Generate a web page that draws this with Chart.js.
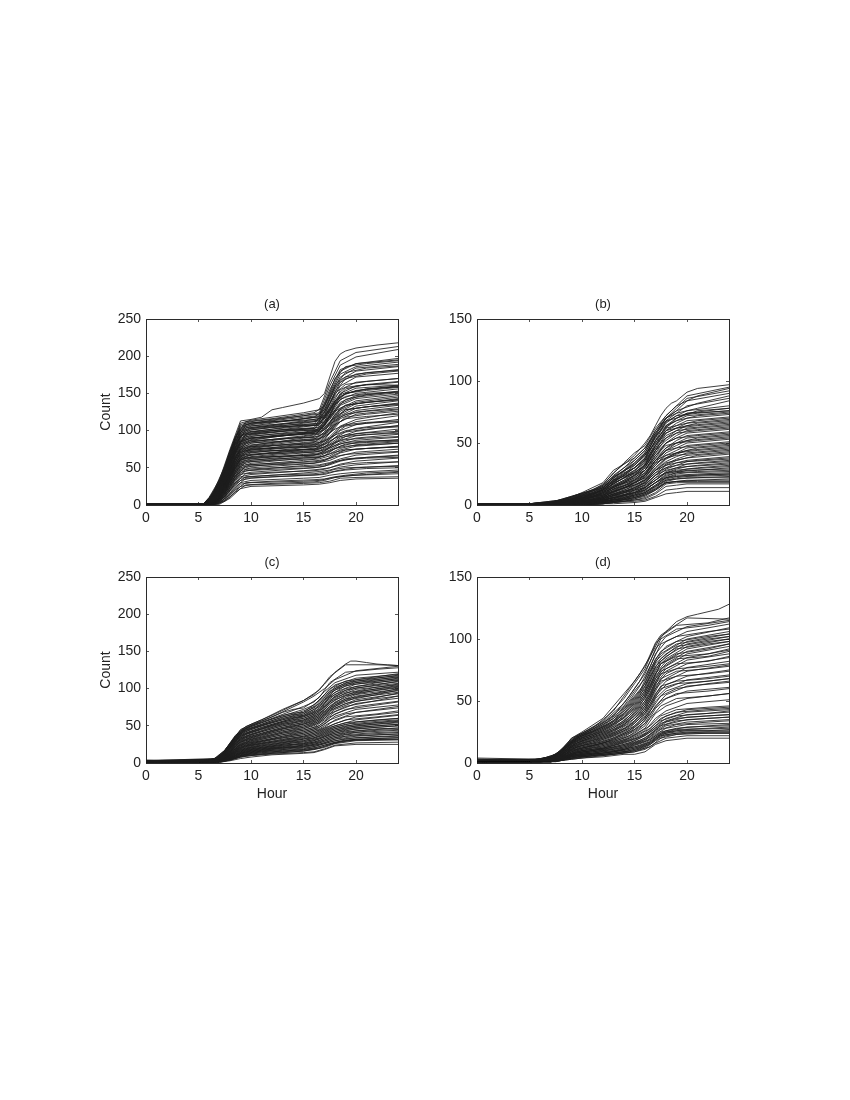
<!DOCTYPE html>
<html><head><meta charset="utf-8">
<script src="https://cdn.jsdelivr.net/npm/chart.js@4"></script>
<style>
html,body{margin:0;padding:0;background:#fff;width:850px;height:1100px;overflow:hidden}
.p{position:absolute;width:310px;height:250px}
</style></head><body>
<div class="p" style="left:96px;top:295px"><canvas id="a"></canvas></div>
<div class="p" style="left:427px;top:295px"><canvas id="b"></canvas></div>
<div class="p" style="left:96px;top:553px"><canvas id="c"></canvas></div>
<div class="p" style="left:427px;top:553px"><canvas id="d"></canvas></div>
<script>
const hoursATop=[0,5.5,6,7,8,9,10,11,12,13,15,16.5,17,17.5,18,18.5,19,20,22,24];
const countsATop=[[2,2,10,34,75,113,115,118,128,131,137,143,150,172,193,203,207,211,215,218]];
const hoursA=[0,5.5,6,7,8,9,10,15,16.5,17.5,18.5,20,24];
const countsA=[
[2,2,9,30,72,110,114,124,128,165,194,205,213],
[1,2,8,28,70,108,112,120,124,160,188,199,209],[2,2,9,31,73,104,110,120,122,150,180,190,197],
[1,1,7,26,68,106,110,118,120,155,182,190,195],[2,2,8,27,66,100,106,116,119,148,176,186,192],
[1,1,7,24,64,102,108,116,118,146,172,184,189],[1,1,6,25,62,98,104,113,116,142,168,180,186],
[2,2,8,23,60,96,103,112,114,138,165,176,182],[1,1,5,22,58,94,101,110,113,136,160,172,177],
[1,1,6,24,60,92,98,108,110,130,155,165,170],[1,1,4,20,56,90,96,105,108,128,150,160,165],
[2,2,7,22,58,93,99,106,107,125,148,157,161],[1,1,5,19,54,88,94,102,104,122,146,154,159],
[1,1,5,21,57,86,92,100,102,120,142,150,156],[2,2,6,18,52,84,90,98,101,118,138,147,153],
[1,1,4,20,55,82,88,96,99,116,136,145,151],[1,1,5,17,50,80,87,97,100,115,134,143,149],
[1,1,3,19,53,85,90,95,97,112,130,140,147],[2,2,6,16,48,78,85,93,96,110,128,138,145],
[1,1,4,18,50,76,83,92,95,108,126,136,143],[1,1,3,15,46,75,80,90,92,104,122,133,140],
[1,1,5,17,48,74,79,88,90,102,120,130,137],[2,2,4,14,44,72,78,86,88,100,118,127,134],
[1,1,3,16,45,70,76,84,86,98,116,125,131],[1,1,2,13,42,68,74,82,84,96,112,122,128],
[1,1,4,15,43,71,75,80,82,92,106,115,124],[1,1,3,12,40,66,72,79,81,90,104,112,120],
[1,1,2,14,41,65,70,77,79,88,100,108,115],[1,1,3,11,38,63,68,75,77,85,96,103,111],
[1,1,2,13,39,62,67,74,75,82,92,99,107],[1,1,1,10,36,60,65,72,73,80,90,96,102],
[1,1,2,12,37,61,64,70,72,78,87,93,98],[1,1,1,9,34,58,62,68,70,76,84,90,95],
[1,1,1,11,33,56,60,67,68,74,82,87,91],[1,1,2,8,31,54,58,65,66,72,79,84,88],
[1,1,1,10,32,52,56,63,64,69,76,81,85],[1,1,1,7,28,50,54,60,62,66,74,79,83],
[1,1,1,9,29,48,52,58,60,63,70,75,79],[1,1,1,6,26,46,50,55,57,60,66,71,75],
[1,1,1,8,25,44,47,53,54,57,62,67,71],[1,1,0,5,23,41,44,49,51,54,59,63,67],
[1,1,0,7,22,38,41,46,48,50,55,59,63],[1,1,0,4,20,36,38,43,45,47,51,54,58],
[1,1,0,5,18,33,36,40,41,44,47,50,53],[1,1,0,3,15,30,33,36,37,40,42,44,47],
[1,1,0,3,14,28,30,32,33,36,38,40,42],[1,1,0,2,11,25,27,29,30,32,36,37,38],
[1,1,0,1,9,22,25,27,28,30,33,35,36]];
const hoursA2=[5.5,6.3,7.5,8.5,9.5,12,14,16,17,18,19,21,24];
const countsA2=[
[2,14,52,92,112,116,120,124,133,170,186,190,194],[1,13,50,90,110,112,114,118,128,160,178,184,187],
[2,12,48,88,106,108,110,112,120,152,170,176,180],[1,12,46,86,108,112,113,115,118,140,156,162,166],
[1,11,45,85,104,106,108,109,125,158,172,178,181],[1,11,44,82,100,104,106,108,116,138,150,156,160],
[1,10,42,80,102,105,106,107,112,126,134,138,141],[1,10,42,84,98,100,102,104,122,150,162,166,170],
[1,9,40,78,96,100,102,103,108,128,142,148,152],[1,9,38,76,94,98,101,102,118,146,158,162,161],
[1,8,38,74,92,95,97,98,104,118,128,132,136],[1,8,36,72,95,98,100,100,106,134,150,156,159],
[1,8,35,72,90,92,94,96,101,114,122,126,129],[1,7,34,70,88,93,95,97,112,140,150,154,158],
[1,7,33,68,86,88,90,91,96,108,116,119,122],[1,7,32,66,84,88,90,92,108,136,146,150,152],
[1,6,31,65,83,85,86,87,92,102,108,111,113],[1,6,30,64,80,84,87,88,98,122,134,138,142],
[1,6,28,62,78,80,81,82,86,94,100,104,106],[1,5,28,60,76,80,82,84,94,116,128,132,135],
[1,5,26,58,75,76,77,78,82,90,94,97,99],[1,5,25,56,73,76,78,79,88,106,118,122,126],
[1,5,24,55,72,73,74,75,78,84,88,90,92],[1,4,23,53,70,73,74,75,82,96,106,110,112],
[1,4,22,52,68,69,70,71,74,80,84,86,87],[1,4,21,50,66,70,72,73,78,90,98,102,105],
[1,3,20,48,64,65,66,67,70,76,79,81,83],[1,3,19,46,62,65,66,67,72,84,92,95,96],
[1,3,18,44,60,62,63,64,66,71,74,76,78],[1,3,17,42,58,60,61,62,66,76,82,84,86],
[1,2,16,40,54,56,57,58,60,65,68,70,72],[1,2,15,38,52,54,55,56,60,68,74,76,78],
[1,2,13,36,48,50,51,52,54,58,61,63,64],[1,2,12,34,46,48,49,50,52,58,62,64,66],
[1,1,11,30,42,44,45,46,48,52,55,57,58],[1,1,10,28,38,40,41,42,44,48,50,51,52],
[1,1,8,24,36,38,39,40,41,45,47,49,50],[1,1,6,20,30,32,33,34,35,38,40,43,45],
[1,0,5,17,27,29,30,31,33,37,39,41,44]];
const hoursBTop=[0,5,8,10,12,13,15,16,16.5,17,17.5,18,18.5,19,20,21,24];
const countsBTop=[[1,1,4,9,16,26,40,50,56,64,72,78,82,84,91,94,97]];
const hoursB=[0,5,8,10,12,13,15,16,17,18,19,20,24];
const countsB=[
[1,1,3,8,15,24,36,44,60,72,80,88,95],
[1,1,3,10,18,28,38,46,58,70,78,86,92],[1,1,4,9,14,22,34,42,56,70,76,84,90],
[1,1,2,7,13,23,32,40,54,68,74,80,86],[1,1,3,6,12,20,30,38,52,67,72,76,80],
[1,1,2,8,14,22,33,41,50,64,70,74,78],[1,1,2,7,12,19,28,36,48,62,70,74,76],
[1,1,3,6,11,18,30,37,52,63,68,72,75],[1,1,2,5,10,17,27,35,46,60,66,70,73],
[0,1,2,6,12,20,26,33,48,60,64,68,71],[0,1,1,5,9,16,24,32,44,58,62,66,69],
[1,1,2,4,10,18,25,31,42,54,60,64,67],[0,1,1,5,8,15,23,30,44,52,58,62,65],
[0,1,2,4,9,14,22,28,40,50,56,60,63],[0,1,1,3,7,15,20,28,38,50,54,58,61],
[0,1,1,4,8,13,21,26,36,46,52,56,59],[0,1,1,3,6,12,19,25,36,44,50,54,57],
[0,1,1,3,7,13,18,24,34,44,48,52,55],[0,1,1,2,6,11,17,23,32,42,46,50,53],
[0,0,1,3,5,10,18,22,32,40,44,48,51],[0,0,1,2,6,11,16,21,30,38,42,46,49],
[0,0,1,2,5,9,15,20,28,37,41,44,47],[0,0,1,3,4,8,14,19,28,35,39,42,45],
[0,0,1,2,5,9,13,18,26,33,37,40,43],[0,0,1,2,4,8,12,17,24,32,36,38,41],
[0,0,1,1,3,7,12,16,24,30,34,36,39],[0,0,1,2,4,6,11,15,22,29,32,35,37],
[0,0,1,1,3,7,10,14,20,27,30,33,35],[0,0,0,1,3,5,10,14,20,26,29,31,33],
[0,0,0,2,3,6,9,13,18,25,27,29,31],[0,0,0,1,2,5,8,12,18,23,26,28,29],
[0,0,0,1,3,4,8,11,16,22,25,26,27],[0,0,0,1,2,4,7,10,15,21,23,24,25],
[0,0,0,1,2,3,6,9,14,20,22,23,24],[0,0,0,1,2,3,6,8,13,19,21,22,22],
[0,0,0,1,1,3,5,8,12,18,19,20,20],[0,0,0,0,1,2,4,6,10,17,18,18,18],
[0,0,0,0,1,2,4,5,9,15,16,17,17],[0,0,0,0,1,2,3,4,7,12,13,14,14],
[0,0,0,0,1,1,2,3,6,9,10,11,11]];
const hoursB2=[0,6,7,9,11,12,14,15,16,17,18,19,21,24];
const countsB2=[
[1,1,2,7,12,17,34,42,48,62,72,80,88,94],[1,1,2,6,11,16,30,38,46,60,70,76,82,88],
[1,1,2,7,12,15,28,36,44,58,70,74,78,84],[1,1,2,6,10,14,27,34,42,57,68,70,76,78],
[1,1,2,5,9,13,25,32,40,55,66,72,74,76],[1,1,1,5,10,14,26,30,38,56,64,68,72,74],
[1,1,1,4,8,13,24,30,36,52,62,64,68,70],[1,1,1,5,9,12,22,28,34,50,60,62,64,66],
[1,1,1,4,8,12,22,26,32,48,58,62,66,68],[1,1,1,4,7,11,20,26,32,46,54,58,60,62],
[1,1,1,3,8,11,19,24,30,44,56,60,62,64],[0,1,1,3,6,10,18,22,28,42,50,54,56,58],
[0,1,1,4,7,10,18,24,28,40,48,50,52,54],[0,1,1,3,6,9,16,20,26,38,46,50,54,56],
[0,1,1,3,5,8,15,20,24,36,44,46,48,50],[0,1,1,2,6,8,14,18,24,36,40,42,46,48],
[0,1,1,2,5,7,13,18,22,34,38,42,44,46],[0,0,1,3,4,7,14,16,20,30,38,40,42,44],
[0,0,1,2,4,6,12,16,20,28,34,36,40,42],[0,0,1,2,3,6,11,14,18,28,32,34,36,38],
[0,0,1,2,4,5,10,14,18,26,30,32,34,36],[0,0,1,1,3,5,10,13,16,24,28,30,32,34],
[0,0,0,2,3,4,8,12,14,22,26,27,28,30],[0,0,0,1,3,4,8,10,14,20,26,28,30,32],
[0,0,0,1,2,4,7,10,12,18,24,26,27,28],[0,0,0,1,2,3,6,9,12,18,22,24,25,26],
[0,0,0,1,2,3,5,8,10,16,22,23,24,25],[0,0,0,1,2,3,5,7,10,15,20,21,22,23],
[0,0,0,1,1,2,4,6,9,13,18,19,20,21],[0,0,0,0,1,2,3,5,7,12,18,19,19,19]];
const hoursCTop=[0,5,6,7,8,9,10,12,15,16,17,18,19,19.5,20,21,22,23,24];
const countsCTop=[[4,3,4,8,26,45,52,64,84,92,106,122,133,137,137,135,133,132,131]];
const hoursC=[0,5,6,7,8,9,10,12,15,16,17,18,20,24];
const countsC=[
[3,3,4,8,26,44,51,62,82,90,100,112,124,130],
[3,3,4,7,25,43,50,60,76,82,96,108,118,122],[3,3,3,7,24,42,49,59,72,78,92,105,114,119],
[3,3,3,7,23,41,47,57,70,76,90,102,112,117],[3,3,3,6,22,40,46,55,68,74,86,100,110,115],
[3,2,3,6,21,39,45,54,66,72,84,98,108,113],[3,2,3,6,20,38,43,52,64,70,82,95,106,111],
[2,2,3,6,20,37,42,51,62,68,80,92,103,109],[2,2,3,5,19,36,41,50,60,66,77,90,101,107],
[2,2,3,5,18,34,39,48,58,64,75,88,99,105],[2,2,2,5,17,33,38,46,57,62,72,85,96,103],
[2,2,2,5,16,32,36,44,55,60,70,82,94,101],[2,2,2,5,15,30,35,43,53,58,68,80,92,99],
[2,2,2,4,15,29,34,42,52,56,66,78,90,97],[2,2,2,4,14,28,32,40,50,54,64,76,88,95],
[2,2,2,4,13,26,31,38,48,52,62,74,85,93],[2,2,2,4,13,25,30,37,46,50,60,72,83,90],
[2,2,2,4,12,24,28,35,44,48,58,69,80,87],[2,2,2,4,11,23,27,33,42,46,55,66,76,83],
[2,2,2,3,11,22,26,32,40,44,52,63,72,78],[2,2,2,3,10,21,25,31,38,42,48,58,68,74],
[2,2,2,3,10,20,24,29,36,40,46,53,62,68],[2,2,2,3,9,19,23,28,35,38,44,50,58,64],
[2,2,2,3,9,18,22,27,33,36,42,48,55,60],[2,2,2,3,8,17,21,25,32,34,40,46,52,57],
[2,2,1,3,8,16,20,24,30,33,38,44,50,55],[2,2,1,3,7,15,19,23,29,31,36,42,48,52],
[2,2,1,2,7,14,18,22,27,30,35,40,46,50],[2,2,1,2,6,13,17,21,26,28,33,38,43,47],
[2,2,1,2,6,13,16,20,24,27,31,36,41,44],[2,2,1,2,6,12,15,19,23,25,29,34,38,41],
[2,2,1,2,5,11,14,18,22,24,27,32,36,39],[2,2,1,2,5,10,13,17,20,22,26,30,34,37],
[2,1,1,2,5,10,12,15,18,20,24,28,32,34],[2,1,1,2,4,9,11,14,17,19,22,27,31,32],
[1,1,1,1,4,8,10,13,16,18,21,26,30,31],[1,1,1,1,4,8,10,12,14,15,19,24,27,28],
[1,1,1,1,3,6,8,11,13,14,18,23,25,25]];
const hoursC2=[0,6.5,7.5,8.5,9.5,11,13,14,15,16.5,17.5,19,22,24];
const countsC2=[
[3,6,17,37,49,58,72,78,84,98,116,132,132,131],[3,5,17,36,47,56,68,72,74,88,108,122,126,128],
[3,5,16,35,46,54,64,67,68,84,100,110,116,120],[2,5,15,34,45,52,62,65,66,80,96,108,114,118],
[2,5,15,33,44,51,60,63,64,76,94,106,112,116],[2,4,14,32,42,50,58,61,63,72,90,104,110,114],
[2,4,14,31,40,48,56,60,62,70,88,100,108,112],[2,4,13,30,39,46,55,58,60,68,84,98,105,110],
[2,4,13,29,38,45,53,56,58,66,82,94,102,106],[2,4,12,28,36,43,52,54,56,64,80,92,100,104],
[2,3,12,27,35,42,50,52,54,62,76,90,98,102],[2,3,11,26,34,40,48,50,52,60,74,86,94,100],
[2,3,11,25,32,38,46,48,50,58,72,84,92,98],[2,3,10,24,31,37,44,46,48,56,70,80,88,94],
[2,3,10,23,30,35,42,44,46,54,66,76,84,90],[2,3,9,22,28,33,40,42,44,50,62,72,78,82],
[2,3,9,21,27,32,38,40,42,48,58,66,72,76],[2,3,8,20,26,30,36,38,40,46,54,62,66,70],
[2,2,8,19,24,29,34,36,38,44,50,58,62,65],[2,2,7,18,23,27,32,34,36,42,48,54,58,60],
[2,2,7,17,22,26,30,32,34,40,46,52,56,58],[2,2,6,16,20,24,28,30,32,38,44,50,54,56],
[2,2,6,15,19,23,27,29,30,36,42,48,52,54],[2,2,6,14,18,21,25,27,28,34,40,46,50,52],
[2,2,5,13,17,20,24,25,26,32,38,44,48,50],[2,2,5,12,16,19,22,24,25,30,36,42,46,47],
[2,2,4,11,15,18,21,22,24,28,34,40,44,45],[2,2,4,10,14,17,20,21,22,27,32,38,41,42],
[1,2,4,9,13,16,18,20,21,25,30,36,38,39],[1,1,3,8,12,15,17,18,19,24,28,33,35,36],
[1,1,3,7,11,14,16,17,18,22,26,31,33,34],[1,1,3,6,10,12,14,15,16,20,25,30,32,32]];
const hoursDTop=[0,5,7,8,9,10,12,14,15,16,17,17.5,18,19,20,21,22,23,24];
const countsDTop=[[3,2,5,10,20,25,36,56,66,78,97,103,106,114,118,120,122,124,128]];
const hoursD=[0,5,7,8,9,10,12,14,15,16,17,18,20,24];
const countsD=[
[3,2,5,10,20,24,34,52,64,76,96,106,117,116],
[2,2,5,9,19,24,33,48,60,72,92,102,110,115],[2,2,4,9,18,23,32,46,58,68,88,98,106,112],
[2,2,4,9,18,23,31,44,54,64,84,94,102,109],[2,2,4,8,17,22,30,42,52,62,82,90,100,106],
[2,2,4,8,17,22,29,40,50,60,80,88,98,104],[2,2,4,8,16,21,28,39,48,58,78,86,96,102],
[2,2,4,8,16,20,27,37,46,56,76,84,94,100],[2,2,3,7,15,20,26,36,44,54,72,82,92,98],
[2,2,3,7,15,19,25,34,42,52,70,80,90,96],[2,2,3,7,14,18,24,33,40,50,68,78,88,94],
[2,2,3,7,14,18,23,31,38,48,66,76,85,91],[2,2,3,6,13,17,22,30,36,46,64,74,83,88],
[2,2,3,6,13,16,21,28,34,44,62,72,80,85],[2,2,3,6,12,16,20,27,33,42,60,68,77,82],
[2,2,3,6,12,15,19,26,32,40,56,66,74,79],[2,2,3,5,11,14,18,25,30,38,54,63,70,75],
[1,2,2,5,11,14,17,24,29,36,52,60,67,71],[1,2,2,5,10,13,16,23,27,34,50,58,64,68],
[1,2,2,5,10,12,16,21,26,32,46,55,62,65],[1,2,2,5,9,12,15,20,24,30,44,52,58,61],
[1,2,2,4,9,11,14,19,23,28,40,46,52,56],[1,2,2,4,8,11,13,18,22,26,36,42,48,51],
[1,1,2,4,8,10,12,17,20,24,32,38,43,45],[1,1,2,4,7,10,12,16,19,23,30,36,41,43],
[1,1,2,4,7,9,11,15,18,22,28,34,39,41],[1,1,2,3,7,9,11,14,17,20,27,33,37,39],
[1,1,2,3,6,8,10,13,16,19,26,31,35,37],[1,1,2,3,6,8,10,12,15,18,25,30,33,35],
[1,1,2,3,6,7,9,11,14,17,23,28,31,32],[1,1,1,3,5,7,8,11,13,16,22,26,29,30],
[1,1,1,3,5,6,8,10,12,15,21,25,27,28],[1,1,1,2,5,6,7,9,11,14,20,24,26,26],
[1,1,1,2,4,5,7,9,10,13,19,23,25,25],[1,1,1,2,4,5,6,8,9,12,18,22,24,24],
[1,1,1,2,3,4,6,8,9,11,16,20,22,22],[1,1,1,2,3,4,5,7,7,9,15,18,20,20]];
const hoursD2=[0,6,7.5,8.5,9.5,11,13,14.5,15.5,16.5,17.5,19,22,24];
const countsD2=[
[4,3,7,15,22,28,42,60,72,86,102,111,113,117],[3,3,7,14,21,27,38,54,66,82,100,108,111,114],
[2,3,6,14,21,26,36,50,62,78,96,102,106,108],[2,3,6,13,20,25,34,48,58,76,90,98,102,104],
[2,3,6,13,20,25,33,46,56,74,88,96,100,102],[2,2,6,13,19,24,32,44,54,70,84,94,98,100],
[2,2,5,12,19,23,31,42,52,66,82,92,96,98],[2,2,5,12,18,22,30,40,50,64,80,88,92,96],
[2,2,5,11,17,22,28,38,48,62,80,86,88,92],[2,2,5,11,16,21,27,36,46,60,76,84,86,90],
[2,2,4,10,16,20,26,35,44,56,74,80,82,86],[2,2,4,10,15,19,25,34,42,54,72,76,78,80],
[2,2,4,9,14,18,24,32,40,52,68,74,76,78],[2,2,4,9,13,17,23,30,38,50,66,70,72,74],
[2,2,4,8,13,16,22,28,36,48,62,66,68,70],[2,2,3,8,12,15,20,26,34,46,60,64,66,68],
[1,2,3,7,11,14,19,25,32,42,54,60,64,66],[1,2,3,7,11,14,18,24,30,40,50,56,58,60],
[1,2,3,6,10,13,17,22,28,36,46,52,54,56],[1,2,3,6,9,12,16,20,25,30,38,43,45,46],
[1,2,3,6,9,11,15,19,23,28,36,41,43,44],[1,2,3,5,8,10,14,18,21,26,34,38,40,42],
[1,1,2,5,8,10,13,16,20,25,32,36,38,39],[1,1,2,5,7,9,12,15,18,23,30,34,36,37],
[1,1,2,4,7,8,11,14,17,21,27,31,33,34],[1,1,2,4,6,8,10,13,16,19,25,28,30,31],
[1,1,2,4,6,7,9,12,14,17,24,27,28,29],[1,1,2,3,5,7,9,11,13,16,23,26,26,27],
[1,1,2,3,5,6,8,10,12,15,22,24,25,25],[1,1,1,3,4,6,7,9,11,13,20,23,24,24]];
const titles=['(a)','(b)','(c)','(d)'];
const xLabel='Hour', yLabel='Count';
const FONT='"Liberation Sans",Arial,sans-serif';
const INK='#2b2b2b';
Chart.defaults.font.family=FONT;
Chart.defaults.color='#222';
function axisBase(extra){
  return Object.assign({
    type:'linear',
    border:{display:true,color:INK,width:1},
    grid:{drawOnChartArea:false,drawTicks:true,tickLength:-3,color:INK,lineWidth:0.8},
  },extra);
}
function build(id,title,groups,yMax,showX,showY){
  const datasets=[];
  groups.forEach(([hours,rows])=>rows.forEach(r=>datasets.push({
    data:r.map((v,i)=>({x:hours[i],y:v})),
    borderColor:'#1c1c1c',borderWidth:0.85,pointRadius:0,tension:0,fill:false
  })));
  const tickFont={size:14};
  new Chart(document.getElementById(id),{
    type:'line',
    data:{datasets},
    options:{
      responsive:true,maintainAspectRatio:false,animation:false,
      layout:{padding:{right:8,left:0,top:0,bottom:0}},
      plugins:{legend:{display:false},tooltip:{enabled:false},
        title:{display:true,fullSize:false,text:title,font:{size:13,weight:'normal'},color:'#222',padding:{top:1.4,bottom:7}}},
      scales:{
        x:axisBase({position:'bottom',min:0,max:24,
          ticks:{stepSize:5,includeBounds:false,autoSkip:false,maxRotation:0,font:tickFont,padding:8,color:'#222'},
          title:{display:showX,text:xLabel,font:{size:14},color:'#222',padding:{top:0,bottom:0}},
          afterFit(s){s.height=40}}),
        y:axisBase({position:'left',min:0,max:yMax,
          ticks:{stepSize:50,autoSkip:false,font:tickFont,padding:8,color:'#222'},
          title:{display:showY,text:yLabel,font:{size:14},color:'#222',padding:{top:2,bottom:0}},
          afterFit(s){s.width=50}}),
        x2:axisBase({position:'top',min:0,max:24,ticks:{display:false,stepSize:5,includeBounds:false},afterFit(s){s.height=0}}),
        y2:axisBase({position:'right',min:0,max:yMax,ticks:{display:false,stepSize:50},afterFit(s){s.width=0}})
      }
    }
  });
}
build('a',titles[0],[[hoursATop,countsATop],[hoursA,countsA],[hoursA2,countsA2]],250,false,true);
build('b',titles[1],[[hoursBTop,countsBTop],[hoursB,countsB],[hoursB2,countsB2]],150,false,false);
build('c',titles[2],[[hoursCTop,countsCTop],[hoursC,countsC],[hoursC2,countsC2]],250,true,true);
build('d',titles[3],[[hoursDTop,countsDTop],[hoursD,countsD],[hoursD2,countsD2]],150,true,false);
</script>
</body></html>
